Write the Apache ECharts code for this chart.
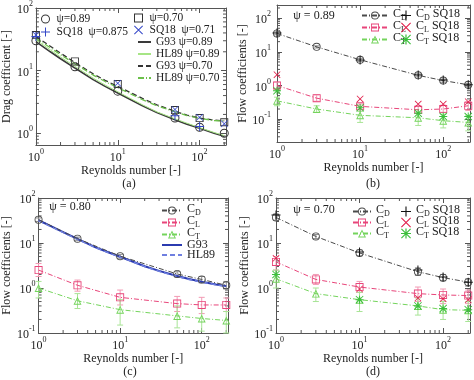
<!DOCTYPE html>
<html><head><meta charset="utf-8">
<script src="https://cdn.jsdelivr.net/npm/echarts@6/dist/echarts.min.js"></script>
<style>html,body{margin:0;padding:0;background:#fff}#c{width:474px;height:380px}</style>
</head><body><div id="c"></div>
<script>
// ---------------- data ----------------
const RE = [1, 3, 10, 50, 100, 200];
const RE_SQ18 = [1, 10, 50, 100, 200];
const RE_CURVE = [1, 1.5, 2, 3, 5, 7, 10, 20, 30, 50, 70, 100, 150, 200];
const X_MINOR = [2,3,4,5,6,7,8,9,20,30,40,50,60,70,80,90,200];

// panel (a) drag coefficient
const A_PSI089 = [30, 11.5, 4.7, 1.75, 1.25, 1.0];
const A_PSI070 = [37, 14, 6.1, 2.35, 1.75, 1.5];
const A_SQ0875_RE = [1, 50, 100];
const A_SQ0875 = [35, 1.9, 1.28];
const A_SQ071 = [37, 6.3, 2.4, 1.8, 1.42];
const A_G93_089 = [29, 20, 15.5, 11, 7.2, 5.6, 4.4, 2.75, 2.15, 1.65, 1.4, 1.2, 1.0, 0.9];
const A_HL89_089 = [31, 21.5, 16.5, 11.7, 7.6, 5.9, 4.6, 2.85, 2.2, 1.7, 1.45, 1.23, 1.03, 0.92];
const A_G93_070 = [35, 24.5, 19, 13.5, 8.9, 7.0, 5.6, 3.6, 2.85, 2.25, 1.95, 1.75, 1.62, 1.58];
const A_HL89_070 = [33, 23.2, 18, 12.9, 8.5, 6.7, 5.35, 3.45, 2.75, 2.2, 1.92, 1.73, 1.6, 1.57];
const A_Y_MINOR = [0.7,0.8,0.9,2,3,4,5,6,7,8,9,20,30,40,50,60,70,80,90];

// panel (b) psi = 0.89
const B_CD = [35, 14, 5.8, 2.0, 1.4, 1.05];
const B_CD_LO = [32, 13, 5.2, 1.8, 1.25, 0.95];
const B_CD_HI = [39, 15, 6.4, 2.2, 1.55, 1.15];
const B_CL = [1.0, 0.42, 0.24, 0.19, 0.2, 0.25];
const B_CL_LO = [0.75, 0.34, 0.2, 0.15, 0.16, 0.18];
const B_CL_HI = [1.25, 0.52, 0.28, 0.25, 0.26, 0.33];
const B_CT = [0.35, 0.2, 0.13, 0.11, 0.09, 0.08];
const B_CT_LO = [0.25, 0.16, 0.08, 0.065, 0.055, 0.045];
const B_CT_HI = [0.45, 0.25, 0.17, 0.16, 0.14, 0.13];
const B_SQ_CD = [36, 5.7, 2.05, 1.45, 1.05];
const B_SQ_CL = [2.1, 0.4, 0.28, 0.28, 0.33];
const B_SQ_CT = [0.7, 0.22, 0.15, 0.12, 0.12];
const B_Y_MINOR = [0.03,0.04,0.05,0.06,0.07,0.08,0.09,0.2,0.3,0.4,0.5,0.6,0.7,0.8,0.9,2,3,4,5,6,7,8,9,20,30,40,50,60,70,80,90,200];

// panel (c) psi = 0.80
const C_CD = [33, 12.5, 5.1, 2.05, 1.55, 1.15];
const C_CD_LO = [30, 11.5, 4.6, 1.75, 1.3, 0.95];
const C_CD_HI = [36, 13.5, 5.6, 2.3, 1.8, 1.4];
const C_CL = [2.5, 1.15, 0.62, 0.45, 0.42, 0.42];
const C_CL_LO = [1.8, 0.85, 0.42, 0.3, 0.27, 0.3];
const C_CL_HI = [3.5, 1.5, 0.9, 0.65, 0.62, 0.6];
const C_CT = [1.0, 0.52, 0.33, 0.24, 0.21, 0.19];
const C_CT_LO = [0.6, 0.35, 0.15, 0.13, 0.11, 0.1];
const C_CT_HI = [1.4, 0.75, 0.55, 0.4, 0.35, 0.3];
const C_G93 = [32, 22.5, 17.5, 12.3, 8.0, 6.3, 4.95, 3.05, 2.4, 1.85, 1.58, 1.38, 1.2, 1.1];
const C_HL89 = [31.5, 22, 17.2, 12.1, 7.9, 6.2, 4.9, 3.0, 2.35, 1.8, 1.55, 1.35, 1.18, 1.08];

// panel (d) psi = 0.70
const D_CD = [37, 14, 6.0, 2.3, 1.7, 1.35];
const D_CD_LO = [32, 12.5, 5.2, 1.9, 1.45, 1.1];
const D_CD_HI = [44, 15.5, 7.0, 2.8, 2.0, 1.6];
const D_CL = [3.8, 1.55, 1.05, 0.75, 0.7, 0.68];
const D_CL_LO = [2.5, 1.2, 0.8, 0.5, 0.45, 0.45];
const D_CL_HI = [5.0, 2.0, 1.4, 1.05, 0.95, 0.9];
const D_CT = [1.6, 0.75, 0.55, 0.4, 0.33, 0.32];
const D_CT_LO = [1.0, 0.5, 0.3, 0.25, 0.2, 0.18];
const D_CT_HI = [2.5, 1.0, 0.8, 0.6, 0.5, 0.5];
const D_SQ_CD = [42, 6.3, 2.5, 1.75, 1.35];
const D_SQ_CL = [4.6, 0.95, 0.6, 0.58, 0.55];
const D_SQ_CT = [2.0, 0.55, 0.4, 0.35, 0.33];
const CD_Y_MINOR = [0.2,0.3,0.4,0.5,0.6,0.7,0.8,0.9,2,3,4,5,6,7,8,9,20,30,40,50,60,70,80,90];

// ---------------- styling / layout ----------------
const FF = '"Liberation Serif","DejaVu Serif",serif';
const AX = '#555';
const TXT = '#222';
const X_MIN = 1, X_MAX = 210;
const GRIDS = [
  {left: 32, top: 7, width: 194, height: 138},
  {left: 277, top: 5, width: 193, height: 137},
  {left: 33, top: 198, width: 195, height: 135},
  {left: 276, top: 198, width: 194, height: 135}
];
const Y_RANGE = [[0.65, 100], [0.021, 245], [0.1, 100], [0.1, 100]];
const Y_NAMES = ['Drag coefficient [-]', 'Flow coefficients [-]', 'Flow coefficients [-]', 'Flow coefficients [-]'];
const Y_MINORS = [A_Y_MINOR, B_Y_MINOR, CD_Y_MINOR, CD_Y_MINOR];

const COL_CD = '#4a4a4a', COL_CL = '#e8457a', COL_CT = '#74d45c';
const COL_SQ_CD = '#111', COL_SQ_CL = '#e01c48', COL_SQ_CT = '#3cbf3c';
const BLUE = '#3346c8';
const PLUS = 'path://M4.45,0h1.1v10h-1.1z M0,4.45h10v1.1h-10z';
const CROSS = 'path://M0,0.75L0.75,0L10,9.25L9.25,10z M9.25,0L10,0.75L0.75,10L0,9.25z';
const STAR = 'path://M4.4,0h1.2v10h-1.2z M0,4.4h10v1.2h-10z M0,0.8L0.8,0L10,9.2L9.2,10z M9.2,0L10,0.8L0.8,10L0,9.2z';
const RING = 'path://M5,0A5,5,0,1,1,4.999,0Z M5,1.1A3.9,3.9,0,1,0,5.001,1.1Z';
const SQRING = 'path://M0,0h10v10h-10z M1.1,1.1v7.8h7.8v-7.8z';
const TRIRING = 'path://M5,0L10,9L0,9Z M5,2.2L1.9,7.9L8.1,7.9Z';

const RICH_TICK = {
  b: {fontFamily: FF, fontSize: 12, color: TXT, padding: [4, 0, 0, 0], verticalAlign: 'bottom'},
  s: {fontFamily: FF, fontSize: 8, color: TXT, verticalAlign: 'top'}
};
function tickFmt(v) {
  const l = Math.log10(v), k = Math.round(l);
  if (Math.abs(l - k) > 1e-6) return '';
  return '{b|10}{s|' + k + '}';
}

const xAxis = [], yAxis = [];
GRIDS.forEach((g, i) => {
  const base = {
    type: 'log', gridIndex: i, logBase: 10,
    axisLine: {show: true, onZero: false, lineStyle: {color: AX, width: 1}},
    axisTick: {show: true, inside: true, length: 5, lineStyle: {color: AX}},
    splitLine: {show: false}
  };
  xAxis.push(Object.assign({}, base, {min: X_MIN, max: X_MAX, position: 'bottom',
    axisLabel: {show: true, formatter: tickFmt, rich: RICH_TICK, margin: 3},
    name: 'Reynolds number [-]', nameLocation: 'middle', nameGap: 18,
    nameTextStyle: {fontFamily: FF, fontSize: 12, color: TXT}}));
  xAxis.push(Object.assign({}, base, {min: X_MIN, max: X_MAX, position: 'top', axisLabel: {show: false}}));
  yAxis.push(Object.assign({}, base, {min: Y_RANGE[i][0], max: Y_RANGE[i][1], position: 'left',
    axisLabel: {show: true, formatter: tickFmt, rich: RICH_TICK, margin: i === 1 ? 6 : 3},
    name: Y_NAMES[i], nameLocation: 'middle', nameGap: i === 1 ? 20 : 17,
    nameTextStyle: {fontFamily: FF, fontSize: 12, color: TXT}}));
  yAxis.push(Object.assign({}, base, {min: Y_RANGE[i][0], max: Y_RANGE[i][1], position: 'right', axisLabel: {show: false}}));
});

const series = [];
function pairs(xs, ys) { return xs.map((x, i) => [x, ys[i]]); }
function lineS(name, g, xs, ys, color, opt) {
  opt = opt || {};
  series.push({
    name: name, type: 'line', xAxisIndex: 2 * g, yAxisIndex: 2 * g, data: pairs(xs, ys),
    symbol: opt.symbol || 'none', symbolSize: opt.size || 8, showSymbol: !!opt.symbol,
    lineStyle: {color: color, width: opt.width || 1, type: opt.type || 'solid'},
    itemStyle: {color: color, borderWidth: 0},
    z: opt.z || 3, silent: true, animation: false
  });
}
function scatterS(name, g, xs, ys, color, symbol, size) {
  series.push({
    name: name, type: 'scatter', xAxisIndex: 2 * g, yAxisIndex: 2 * g, data: pairs(xs, ys),
    symbol: symbol, symbolSize: size, itemStyle: {color: color, borderWidth: 0, opacity: 1},
    z: 5, silent: true, animation: false
  });
}
function errS(g, xs, lo, hi, color) {
  series.push({
    type: 'custom', xAxisIndex: 2 * g, yAxisIndex: 2 * g, silent: true, z: 2, animation: false,
    data: xs.map((x, i) => [x, lo[i], hi[i]]), encode: {x: 0, y: [1, 2]},
    renderItem: function (p, api) {
      const x = api.value(0);
      const a = api.coord([x, api.value(1)]), b = api.coord([x, api.value(2)]);
      const w = 3, st = {stroke: color, lineWidth: 1};
      return {type: 'group', children: [
        {type: 'line', shape: {x1: a[0], y1: a[1], x2: b[0], y2: b[1]}, style: st},
        {type: 'line', shape: {x1: a[0] - w, y1: a[1], x2: a[0] + w, y2: a[1]}, style: st},
        {type: 'line', shape: {x1: b[0] - w, y1: b[1], x2: b[0] + w, y2: b[1]}, style: st}
      ]};
    }
  });
}
function minorS(g) {
  const y0 = Y_RANGE[g][0];
  series.push({
    type: 'custom', xAxisIndex: 2 * g, yAxisIndex: 2 * g, silent: true, z: 1, animation: false,
    data: X_MINOR.map(v => [v, y0]), encode: {x: 0, y: 1},
    renderItem: function (p, api) {
      const c = api.coord([api.value(0), api.value(1)]);
      const cs = p.coordSys, st = {stroke: AX, lineWidth: 1};
      return {type: 'group', children: [
        {type: 'line', shape: {x1: c[0], y1: cs.y + cs.height, x2: c[0], y2: cs.y + cs.height - 3}, style: st},
        {type: 'line', shape: {x1: c[0], y1: cs.y, x2: c[0], y2: cs.y + 3}, style: st}
      ]};
    }
  });
  series.push({
    type: 'custom', xAxisIndex: 2 * g, yAxisIndex: 2 * g, silent: true, z: 1, animation: false,
    data: Y_MINORS[g].map(v => [X_MIN, v]), encode: {x: 0, y: 1},
    renderItem: function (p, api) {
      const c = api.coord([api.value(0), api.value(1)]);
      const cs = p.coordSys, st = {stroke: AX, lineWidth: 1};
      return {type: 'group', children: [
        {type: 'line', shape: {x1: cs.x, y1: c[1], x2: cs.x + 3, y2: c[1]}, style: st},
        {type: 'line', shape: {x1: cs.x + cs.width, y1: c[1], x2: cs.x + cs.width - 3, y2: c[1]}, style: st}
      ]};
    }
  });
}
[0, 1, 2, 3].forEach(minorS);

// panel (a)
lineS('a_g93_089', 0, RE_CURVE, A_G93_089, '#3a3a3a', {width: 1.6});
lineS('a_hl89_089', 0, RE_CURVE, A_HL89_089, '#a6e585', {width: 1});
lineS('a_g93_070', 0, RE_CURVE, A_G93_070, '#333', {width: 1.3, type: [5, 3]});
lineS('a_hl89_070', 0, RE_CURVE, A_HL89_070, '#6cc04a', {width: 1.3, type: [6, 2, 1, 2]});
scatterS('a_psi089', 0, RE, A_PSI089, '#333', RING, 9);
scatterS('a_psi070', 0, RE, A_PSI070, '#333', SQRING, 8);
scatterS('a_sq0875', 0, A_SQ0875_RE, A_SQ0875, BLUE, PLUS, 9);
scatterS('a_sq071', 0, RE_SQ18, A_SQ071, BLUE, CROSS, 7);

// panels (b), (c), (d)
const PANELS = [
  {g: 1, p: 'b', cd: B_CD, cdl: B_CD_LO, cdh: B_CD_HI, cl: B_CL, cll: B_CL_LO, clh: B_CL_HI, ct: B_CT, ctl: B_CT_LO, cth: B_CT_HI, sq: [B_SQ_CD, B_SQ_CL, B_SQ_CT]},
  {g: 2, p: 'c', cd: C_CD, cdl: C_CD_LO, cdh: C_CD_HI, cl: C_CL, cll: C_CL_LO, clh: C_CL_HI, ct: C_CT, ctl: C_CT_LO, cth: C_CT_HI, sq: null},
  {g: 3, p: 'd', cd: D_CD, cdl: D_CD_LO, cdh: D_CD_HI, cl: D_CL, cll: D_CL_LO, clh: D_CL_HI, ct: D_CT, ctl: D_CT_LO, cth: D_CT_HI, sq: [D_SQ_CD, D_SQ_CL, D_SQ_CT]}
];
PANELS.forEach(P => {
  errS(P.g, RE, P.cdl, P.cdh, '#8a8a8a');
  errS(P.g, RE, P.cll, P.clh, '#f29ab4');
  errS(P.g, RE, P.ctl, P.cth, '#a8e496');
  if (P.p === 'c') {
    lineS('c_g93', 2, RE_CURVE, C_G93, '#2b3bb0', {width: 2, z: 2});
    lineS('c_hl89', 2, RE_CURVE, C_HL89, '#6f7fe0', {width: 1.5, type: [5, 3], z: 2});
  }
  lineS(P.p + '_cd', P.g, RE, P.cd, COL_CD, {symbol: RING, size: 8, type: [5, 2, 1, 2]});
  lineS(P.p + '_cl', P.g, RE, P.cl, COL_CL, {symbol: SQRING, size: 8, type: [5, 2, 1, 2]});
  lineS(P.p + '_ct', P.g, RE, P.ct, COL_CT, {symbol: TRIRING, size: 8, type: [5, 2, 1, 2]});
  if (P.sq) {
    scatterS(P.p + '_sqcd', P.g, RE_SQ18, P.sq[0], COL_SQ_CD, PLUS, 9);
    scatterS(P.p + '_sqcl', P.g, RE_SQ18, P.sq[1], COL_SQ_CL, CROSS, 7);
    scatterS(P.p + '_sqct', P.g, RE_SQ18, P.sq[2], COL_SQ_CT, STAR, 8);
  }
});

// ---------------- legends ----------------
const LABELS = {
  a_psi089: 'ψ=0.89', a_sq0875: 'SQ18  ψ=0.875', a_psi070: 'ψ=0.70', a_sq071: 'SQ18  ψ=0.71',
  a_g93_089: 'G93 ψ=0.89', a_hl89_089: 'HL89 ψ=0.89', a_g93_070: 'G93 ψ=0.70', a_hl89_070: 'HL89 ψ=0.70',
  c_g93: 'G93', c_hl89: 'HL89'
};
['b', 'c', 'd'].forEach(p => {
  LABELS[p + '_cd'] = '{n|C}{sub|D}';
  LABELS[p + '_cl'] = '{n|C}{sub|L}';
  LABELS[p + '_ct'] = '{n|C}{sub|T}';
  LABELS[p + '_sqcd'] = '{n|C}{sub|D}{n| SQ18}';
  LABELS[p + '_sqcl'] = '{n|C}{sub|L}{n| SQ18}';
  LABELS[p + '_sqct'] = '{n|C}{sub|T}{n| SQ18}';
});
const LINE_ONLY = ['a_g93_089', 'a_hl89_089', 'a_g93_070', 'a_hl89_070', 'c_g93', 'c_hl89'];
const RICH_LEG = {
  n: {fontFamily: FF, fontSize: 12, color: TXT, lineHeight: 13, padding: [0, 0, 2, 0], verticalAlign: 'bottom'},
  sub: {fontFamily: FF, fontSize: 8, color: TXT, lineHeight: 9, verticalAlign: 'bottom'}
};
function leg(names, left, top, iw, ih, gap, rich) {
  return {
    data: names.map(n => LINE_ONLY.indexOf(n) >= 0 ? {name: n, itemStyle: {opacity: 0}} : n),
    left: left, top: top, orient: 'vertical', itemGap: gap, itemWidth: iw, itemHeight: ih,
    selectedMode: false, padding: 0, symbolKeepAspect: true,
    formatter: n => LABELS[n],
    textStyle: rich ? {fontFamily: FF, fontSize: 12, color: TXT, rich: RICH_LEG}
                    : {fontFamily: FF, fontSize: 11.5, color: TXT, lineHeight: 12}
  };
}
const legend = [
  leg(['a_psi089', 'a_sq0875'], 41, 13, 12, 9, 1, false),
  leg(['a_psi070', 'a_sq071'], 134, 12, 12, 9, 0, false),
  leg(['a_g93_089', 'a_hl89_089', 'a_g93_070', 'a_hl89_070'], 137, 36, 13, 8, 0, false),
  leg(['b_cd', 'b_cl', 'b_ct'], 361, 8, 26, 10, -2, true),
  leg(['b_sqcd', 'b_sqcl', 'b_sqct'], 401, 8, 10, 10, -2, true),
  leg(['c_cd', 'c_cl', 'c_ct', 'c_g93', 'c_hl89'], 161, 203, 20, 10, -2, true),
  leg(['d_cd', 'd_cl', 'd_ct'], 352, 204, 18, 10, -3, true),
  leg(['d_sqcd', 'd_sqcl', 'd_sqct'], 401, 204, 10, 10, -3, true)
];

function txt(x, y, s) {
  return {type: 'text', x: x, y: y, silent: true,
    style: {text: s, font: '12px ' + FF, fill: TXT, align: 'center', verticalAlign: 'middle', textAlign: 'center', textVerticalAlign: 'middle'}};
}
const graphic = [
  txt(314, 16, 'ψ = 0.89'), txt(70, 207, 'ψ = 0.80'), txt(314, 210, 'ψ = 0.70'),
  txt(129, 184, '(a)'), txt(373, 184, '(b)'), txt(130, 372, '(c)'), txt(373, 372, '(d)')
];

const chart = echarts.init(document.getElementById('c'), null, {renderer: 'canvas'});
chart.setOption({
  animation: false, backgroundColor: '#fff',
  grid: GRIDS.map(g => Object.assign({containLabel: false}, g)),
  xAxis: xAxis, yAxis: yAxis, legend: legend, series: series, graphic: graphic
});
</script></body></html>
